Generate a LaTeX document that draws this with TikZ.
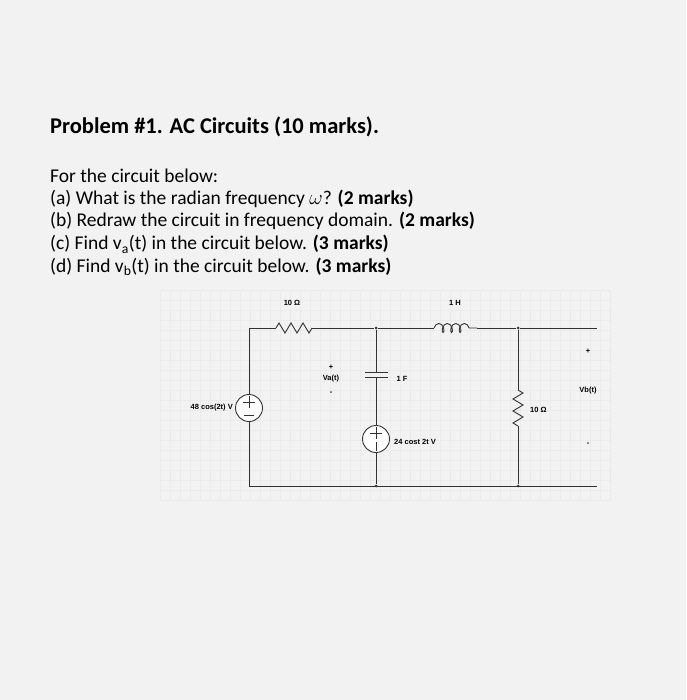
\documentclass[tikz,border=0pt]{standalone}
\usepackage{fontspec}
\setmainfont{Carlito}
\newfontfamily\arial{Liberation Sans}
\usetikzlibrary{decorations.pathmorphing}
\begin{document}
\begin{tikzpicture}[x=1pt,y=-1pt,
  txt/.style={anchor=base west,font=\fontsize{19.5}{22}\selectfont,inner sep=0},
  lbl/.style={font=\arial\bfseries\fontsize{7.5}{9}\selectfont,inner sep=1pt},
  wire/.style={line width=0.9pt,black!80},
  src/.style={circle,draw=black!80,line width=0.9pt,minimum size=27pt,inner sep=0,fill=white},
  dot/.style={circle,fill=black!80,inner sep=0,minimum size=3pt}]
\fill[gray!10] (0,0) rectangle (686,700);
\useasboundingbox (0,0) rectangle (686,700);
\draw[black!8,step=10pt,line width=0.3pt] (160,290) grid (610,500);
% text
\node[txt,font=\fontsize{22.5}{26}\selectfont\bfseries] (title) at (50,134) {Problem \#1. AC Circuits (10 marks).};
\node[txt] (t0) at (50,183) {For the circuit below:};
\node[txt] (t1) at (50,205) {(a) What is the radian frequency $\omega$? \textbf{(2 marks)}};
\node[txt] (t2) at (50,227) {(b) Redraw the circuit in frequency domain. \textbf{(2 marks)}};
\node[txt] (t3) at (50,250) {(c) Find v\textsubscript{a}(t) in the circuit below. \textbf{(3 marks)}};
\node[txt] (t4) at (50,272) {(d) Find v\textsubscript{b}(t) in the circuit below. \textbf{(3 marks)}};
% circuit coordinates
\coordinate (tl) at (249,328); \coordinate (bl) at (249,486);
\node[dot] (tm) at (376,328) {}; \node[dot] (bm) at (376,486) {};
\node[dot] (tr) at (518,328) {}; \node[dot] (br) at (518,486) {};
\coordinate (te) at (597,328); \coordinate (be) at (597,486);
\coordinate (r1a) at (276,328); \coordinate (r1b) at (312,328);
\coordinate (l1a) at (434,328); \coordinate (l1b) at (477,328);
\coordinate (c1a) at (376,372); \coordinate (c1b) at (376,377);
\coordinate (r2a) at (518,390); \coordinate (r2b) at (518,426);
\node[src] (s1) at (249,408) {};
\node[src] (s2) at (376,439) {};
% wires
\draw[wire] (s1.north) -- (tl) -- (r1a);
\draw[wire,decorate,decoration={zigzag,segment length=12pt,amplitude=5pt}] (r1a) -- (r1b);
\draw[wire] (r1b) -- (tm) -- (l1a);
\draw[wire,decorate,decoration={coil,aspect=0.6,segment length=8.5pt,amplitude=4.5pt}] (l1a) -- (l1b);
\draw[wire] (l1b) -- (tr) -- (te);
\draw[wire] (s1.south) -- (bl) -- (be);
\draw[wire] (tm) -- (c1a); \draw[wire] (c1b) -- (s2.north);
\draw[wire] (365,372) -- (388,372); \draw[wire] (365,377) -- (388,377);
\draw[wire] (s2.south) -- (bm);
\draw[wire] (tr) -- (r2a);
\draw[wire,decorate,decoration={zigzag,segment length=12pt,amplitude=5pt}] (r2a) -- (r2b);
\draw[wire] (r2b) -- (br);
% source signs
\draw[wire,line width=0.7pt] (243,402)--(255,402) (249,396)--(249,408) (244,415)--(254,415);
\draw[wire,line width=0.7pt] (370,433)--(382,433) (376,427)--(376,439) (376,442)--(376,451);
% labels
\node[lbl] (lr1) at (292,303) {10 Ω};
\node[lbl] (ll1) at (455,303) {1 H};
\node[lbl] (lva) at (331,379) {Va(t)};
\node[lbl] (vap) at (331,367) {+};
\node[lbl] (vam) at (331,393) {-};
\node[lbl] (lc) at (402,379) {1 F};
\node[lbl,anchor=east] (ls1) at (234,408) {48 cos(2t) V};
\node[lbl,anchor=west] (ls2) at (393,442) {24 cost 2t V};
\node[lbl,anchor=west] (lr2) at (529,410) {10 Ω};
\node[lbl] (lvb) at (588,391) {Vb(t)};
\node[lbl] (vbp) at (588,351) {+};
\node[lbl] (vbm) at (588,444) {-};
\end{tikzpicture}
\end{document}
